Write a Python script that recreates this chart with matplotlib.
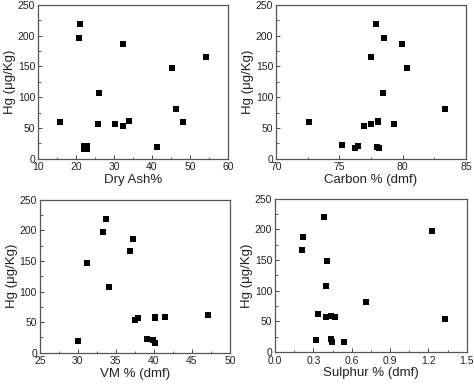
#!/usr/bin/env python3
"""Hg vs. coal properties: four scatter panels (ash, carbon, VM, sulphur)."""
import matplotlib
matplotlib.use("Agg")
import matplotlib.pyplot as plt
from matplotlib.ticker import AutoMinorLocator

plt.rcParams.update({
    "font.family": ["Liberation Sans", "DejaVu Sans"],
    "font.size": 7.5,
    "axes.labelsize": 9.5,
    "axes.edgecolor": "#555555",
    "axes.linewidth": 0.9,
    "xtick.direction": "in",
    "ytick.direction": "in",
    "xtick.color": "#444444",
    "ytick.color": "#444444",
    "xtick.labelcolor": "#222222",
    "ytick.labelcolor": "#222222",
})

# --- data ---
ash_x = [21.0, 20.9, 32.3, 26.0, 15.7, 25.7, 30.4, 32.3, 33.9, 22.0, 22.8, 22.0, 22.8,
         54.1, 45.3, 46.4, 48.2, 41.4]
ash_y = [219, 197, 186, 107, 59, 56, 56, 53, 61, 21, 21, 16, 16,
         166, 147, 81, 59, 19]

carbon_x = [77.87, 78.50, 79.97, 77.52, 80.34, 78.47, 83.36, 72.58, 75.24, 76.24,
            76.50, 76.97, 77.52, 78.03, 78.08, 79.30, 78.00, 78.15]
carbon_y = [219, 197, 186, 166, 147, 107, 81, 59, 22, 17,
            20, 53, 56, 61, 59, 56, 19, 17]

vm_x = [33.77, 33.29, 37.28, 36.84, 31.2, 34.1, 30.04, 37.46, 37.85,
        40.13, 40.13, 41.4, 47.1, 39.08, 39.9, 40.13]
vm_y = [219, 197, 186, 166, 147, 107, 19, 53, 56,
        59, 56, 59, 61, 22, 21, 16]

sul_x = [0.385, 0.22, 0.21, 0.41, 0.40, 0.71, 0.34, 0.40, 0.435, 0.47,
         0.32, 0.435, 0.445, 0.54, 1.23, 1.33]
sul_y = [220, 187, 167, 148, 108, 82, 62, 57, 58, 57,
         20, 22, 17, 17, 198, 54]

PANELS = [
    # x, y, xlabel, xlim, xticks, axes rect
    (ash_x, ash_y, "Dry Ash%", (10, 60), [10, 20, 30, 40, 50, 60],
     [0.080, 0.589, 0.401, 0.398]),
    (carbon_x, carbon_y, "Carbon % (dmf)", (70, 85), [70, 75, 80, 85],
     [0.582, 0.589, 0.401, 0.398]),
    (vm_x, vm_y, "VM % (dmf)", (25, 50), [25, 30, 35, 40, 45, 50],
     [0.084, 0.086, 0.401, 0.397]),
    (sul_x, sul_y, "Sulphur % (dmf)", (0.0, 1.5), [0.0, 0.3, 0.6, 0.9, 1.2, 1.5],
     [0.580, 0.088, 0.405, 0.397]),
]

fig = plt.figure(figsize=(4.74, 3.86), dpi=100)

for x, y, xlabel, xlim, xticks, rect in PANELS:
    ax = fig.add_axes(rect)
    ax.plot(x, y, ls="none", marker="s", ms=4.2, color="black",
            markeredgewidth=0, clip_on=False)
    ax.set_xlim(*xlim)
    ax.set_ylim(0, 250)
    ax.set_xticks(xticks)
    if xlabel.startswith("Sulphur"):
        ax.set_xticklabels([f"{t:.1f}" for t in xticks])
    ax.set_yticks([0, 50, 100, 150, 200, 250])
    ax.xaxis.set_minor_locator(AutoMinorLocator(2))
    ax.yaxis.set_minor_locator(AutoMinorLocator(2))
    ax.tick_params(which="major", length=3, width=0.7)
    ax.tick_params(axis="x", which="major", pad=2.5)
    ax.tick_params(axis="y", which="major", pad=2.0)
    ax.tick_params(which="minor", length=1.8, width=0.6)
    ax.set_xlabel(xlabel, labelpad=1, color="#222222")
    ax.set_ylabel("Hg (\u03bcg/Kg)", labelpad=1, color="#222222")

fig.savefig("out.png", dpi=100)
